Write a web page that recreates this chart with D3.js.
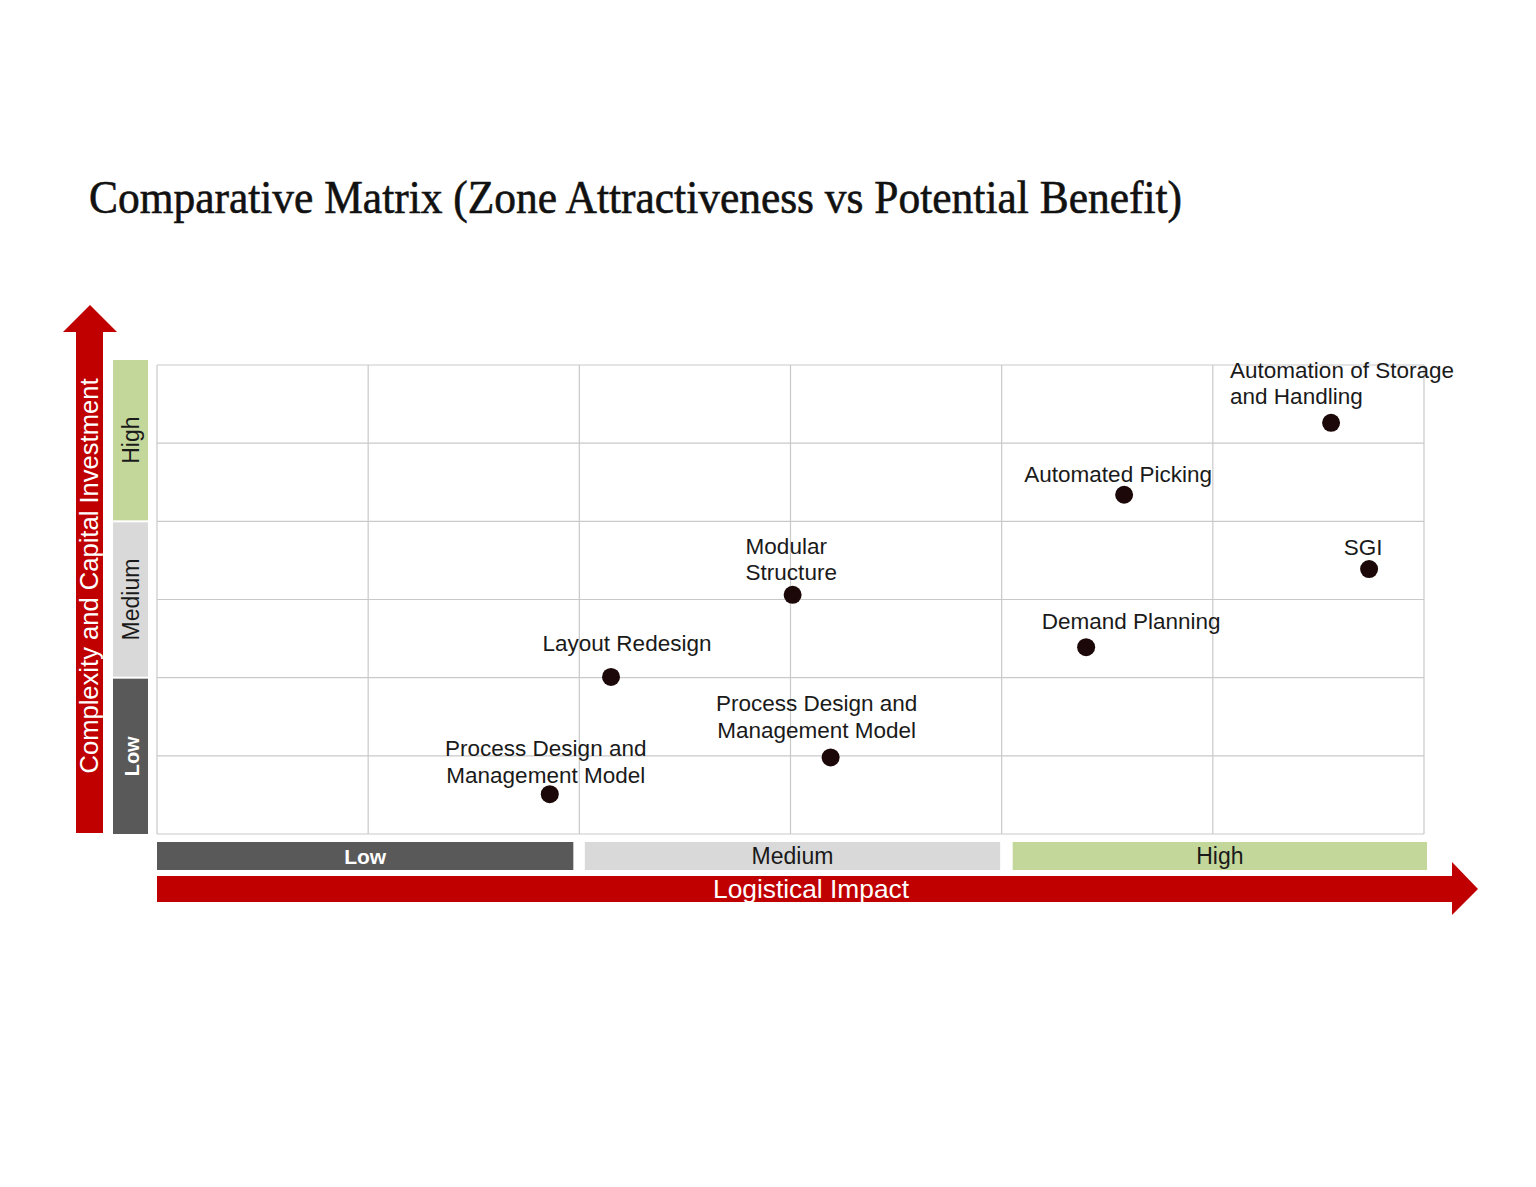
<!DOCTYPE html>
<html><head><meta charset="utf-8">
<script src="https://cdn.jsdelivr.net/npm/d3@7"></script>
<style>body{margin:0;background:#fff}svg{display:block}</style>
</head><body>
<script>
// ---- data ----
const titleText = "Comparative Matrix (Zone Attractiveness vs Potential Benefit)";
const xAxisTitle = "Logistical Impact";
const yAxisTitle = "Complexity and Capital Investment";
const levels = ["Low", "Medium", "High"];
const levelSpan = [[0, 2], [2, 4], [4, 6]];
const gridTicks = [0, 1, 2, 3, 4, 5, 6];
const initiatives = [
  "Automation of Storage and Handling",
  "Automated Picking",
  "SGI",
  "Modular Structure",
  "Demand Planning",
  "Layout Redesign",
  "Process Design and Management Model",
  "Process Design and Management Model"
];
const impactValues = [5.56, 4.58, 5.74, 3.01, 4.40, 2.15, 3.19, 1.86];
const complexityValues = [5.26, 4.34, 3.39, 3.06, 2.39, 2.01, 0.98, 0.51];
const labelLines = [
  ["Automation of Storage", "and Handling"],
  ["Automated Picking"],
  ["SGI"],
  ["Modular", "Structure"],
  ["Demand Planning"],
  ["Layout Redesign"],
  ["Process Design and", "Management Model"],
  ["Process Design and", "Management Model"]
];
// ---- label layout (style) ----
const labelLayout = [
  {dx: -101, dy: -45, anchor: "start"},
  {dx: -6, dy: -13, anchor: "middle"},
  {dx: -6, dy: -14, anchor: "middle"},
  {dx: -47, dy: -41, anchor: "start"},
  {dx: 45, dy: -18, anchor: "middle"},
  {dx: 16, dy: -26, anchor: "middle"},
  {dx: -14, dy: -46, anchor: "middle"},
  {dx: -4, dy: -38, anchor: "middle"}
];
const bandColors = {Low: "#595959", Medium: "#d9d9d9", High: "#c4d79b"};
const bandText = {Low: "#ffffff", Medium: "#1a1a1a", High: "#1a1a1a"};
const RED = "#c00000";

const W = 1536, H = 1187;
const svg = d3.select("body").append("svg").attr("width", W).attr("height", H);

const x = d3.scaleLinear().domain([0, 6]).range([157, 1424]);
const y = d3.scaleLinear().domain([0, 6]).range([834, 365]);

// title
svg.append("text").attr("x", 89).attr("y", 213)
  .attr("font-family", "'Liberation Serif', 'DejaVu Serif', serif")
  .attr("font-size", 46).attr("fill", "#111")
  .attr("stroke", "#111").attr("stroke-width", 0.6)
  .attr("textLength", 1093).attr("lengthAdjust", "spacingAndGlyphs")
  .text(titleText);

// grid
const g = svg.append("g");
g.selectAll("line.v").data(gridTicks).join("line")
  .attr("x1", d => x(d)).attr("x2", d => x(d))
  .attr("y1", y(0)).attr("y2", y(6))
  .attr("stroke", "#c9c9c9").attr("stroke-width", 1.2);
g.selectAll("line.h").data(gridTicks).join("line")
  .attr("y1", d => y(d)).attr("y2", d => y(d))
  .attr("x1", x(0)).attr("x2", x(6))
  .attr("stroke", "#c9c9c9").attr("stroke-width", 1.2);

// left bands (y levels)
const lb = svg.append("g");
levels.forEach((lv, i) => {
  const [a, b] = levelSpan[i];
  const top = (i === 2 ? y(b) - 5 : y(b) + 1);
  const bot = (i === 0 ? y(a) : y(a) - 1);
  lb.append("rect").attr("x", 113).attr("width", 35)
    .attr("y", top).attr("height", bot - top).attr("fill", bandColors[lv]);
  const cy = (top + bot) / 2;
  lb.append("text").attr("transform", `translate(139,${cy}) rotate(-90)`)
    .attr("text-anchor", "middle")
    .attr("font-family", "'Liberation Sans', Arial, sans-serif")
    .attr("font-size", lv === "Low" ? 20 : 23).attr("font-weight", lv === "Low" ? "bold" : "normal")
    .attr("fill", bandText[lv]).text(lv);
});

// bottom bands (x levels)
const bb = svg.append("g");
levels.forEach((lv, i) => {
  const [a, b] = levelSpan[i];
  const left = x(a) + i * 5.5;
  const right = x(b) - 6 + i * 4.5;
  bb.append("rect").attr("x", left).attr("width", right - left)
    .attr("y", 842).attr("height", 28).attr("fill", bandColors[lv]);
  bb.append("text").attr("x", (left + right) / 2).attr("y", 864)
    .attr("text-anchor", "middle")
    .attr("font-family", "'Liberation Sans', Arial, sans-serif")
    .attr("font-size", lv === "Low" ? 21 : 23).attr("font-weight", lv === "Low" ? "bold" : "normal")
    .attr("fill", bandText[lv]).text(lv);
});

// vertical red arrow
svg.append("path")
  .attr("d", "M76,833 L76,332 L63,332 L90,305 L117,332 L103,332 L103,833 Z")
  .attr("fill", RED);
svg.append("text").attr("transform", "translate(98,576) rotate(-90)")
  .attr("text-anchor", "middle")
  .attr("font-family", "'Liberation Sans', Arial, sans-serif")
  .attr("font-size", 25).attr("fill", "#fff")
  .attr("textLength", 395).attr("lengthAdjust", "spacingAndGlyphs")
  .text(yAxisTitle);

// horizontal red arrow
svg.append("path")
  .attr("d", "M157,876 L1452,876 L1452,862 L1478,889 L1452,915 L1452,902 L157,902 Z")
  .attr("fill", RED);
svg.append("text").attr("x", 811).attr("y", 898)
  .attr("text-anchor", "middle")
  .attr("font-family", "'Liberation Sans', Arial, sans-serif")
  .attr("font-size", 25).attr("fill", "#fff")
  .attr("textLength", 196).attr("lengthAdjust", "spacingAndGlyphs")
  .text(xAxisTitle);

// points
const pts = initiatives.map((n, i) => ({name: n, x: impactValues[i], y: complexityValues[i], lines: labelLines[i], lay: labelLayout[i]}));
const pg = svg.append("g");
pg.selectAll("circle").data(pts).join("circle")
  .attr("cx", d => x(d.x)).attr("cy", d => y(d.y)).attr("r", 9)
  .attr("fill", "#1c0808");
pg.selectAll("text").data(pts).join("text")
  .attr("x", d => x(d.x) + d.lay.dx).attr("y", d => y(d.y) + d.lay.dy)
  .attr("text-anchor", d => d.lay.anchor)
  .attr("font-family", "'Liberation Sans', Arial, sans-serif")
  .attr("font-size", 22.5).attr("fill", "#1a1a1a")
  .each(function(d) {
    const el = d3.select(this);
    d.lines.forEach((ln, k) => {
      el.append("tspan").attr("x", x(d.x) + d.lay.dx).attr("dy", k === 0 ? 0 : 26.5).text(ln);
    });
  });
</script>
</body></html>
